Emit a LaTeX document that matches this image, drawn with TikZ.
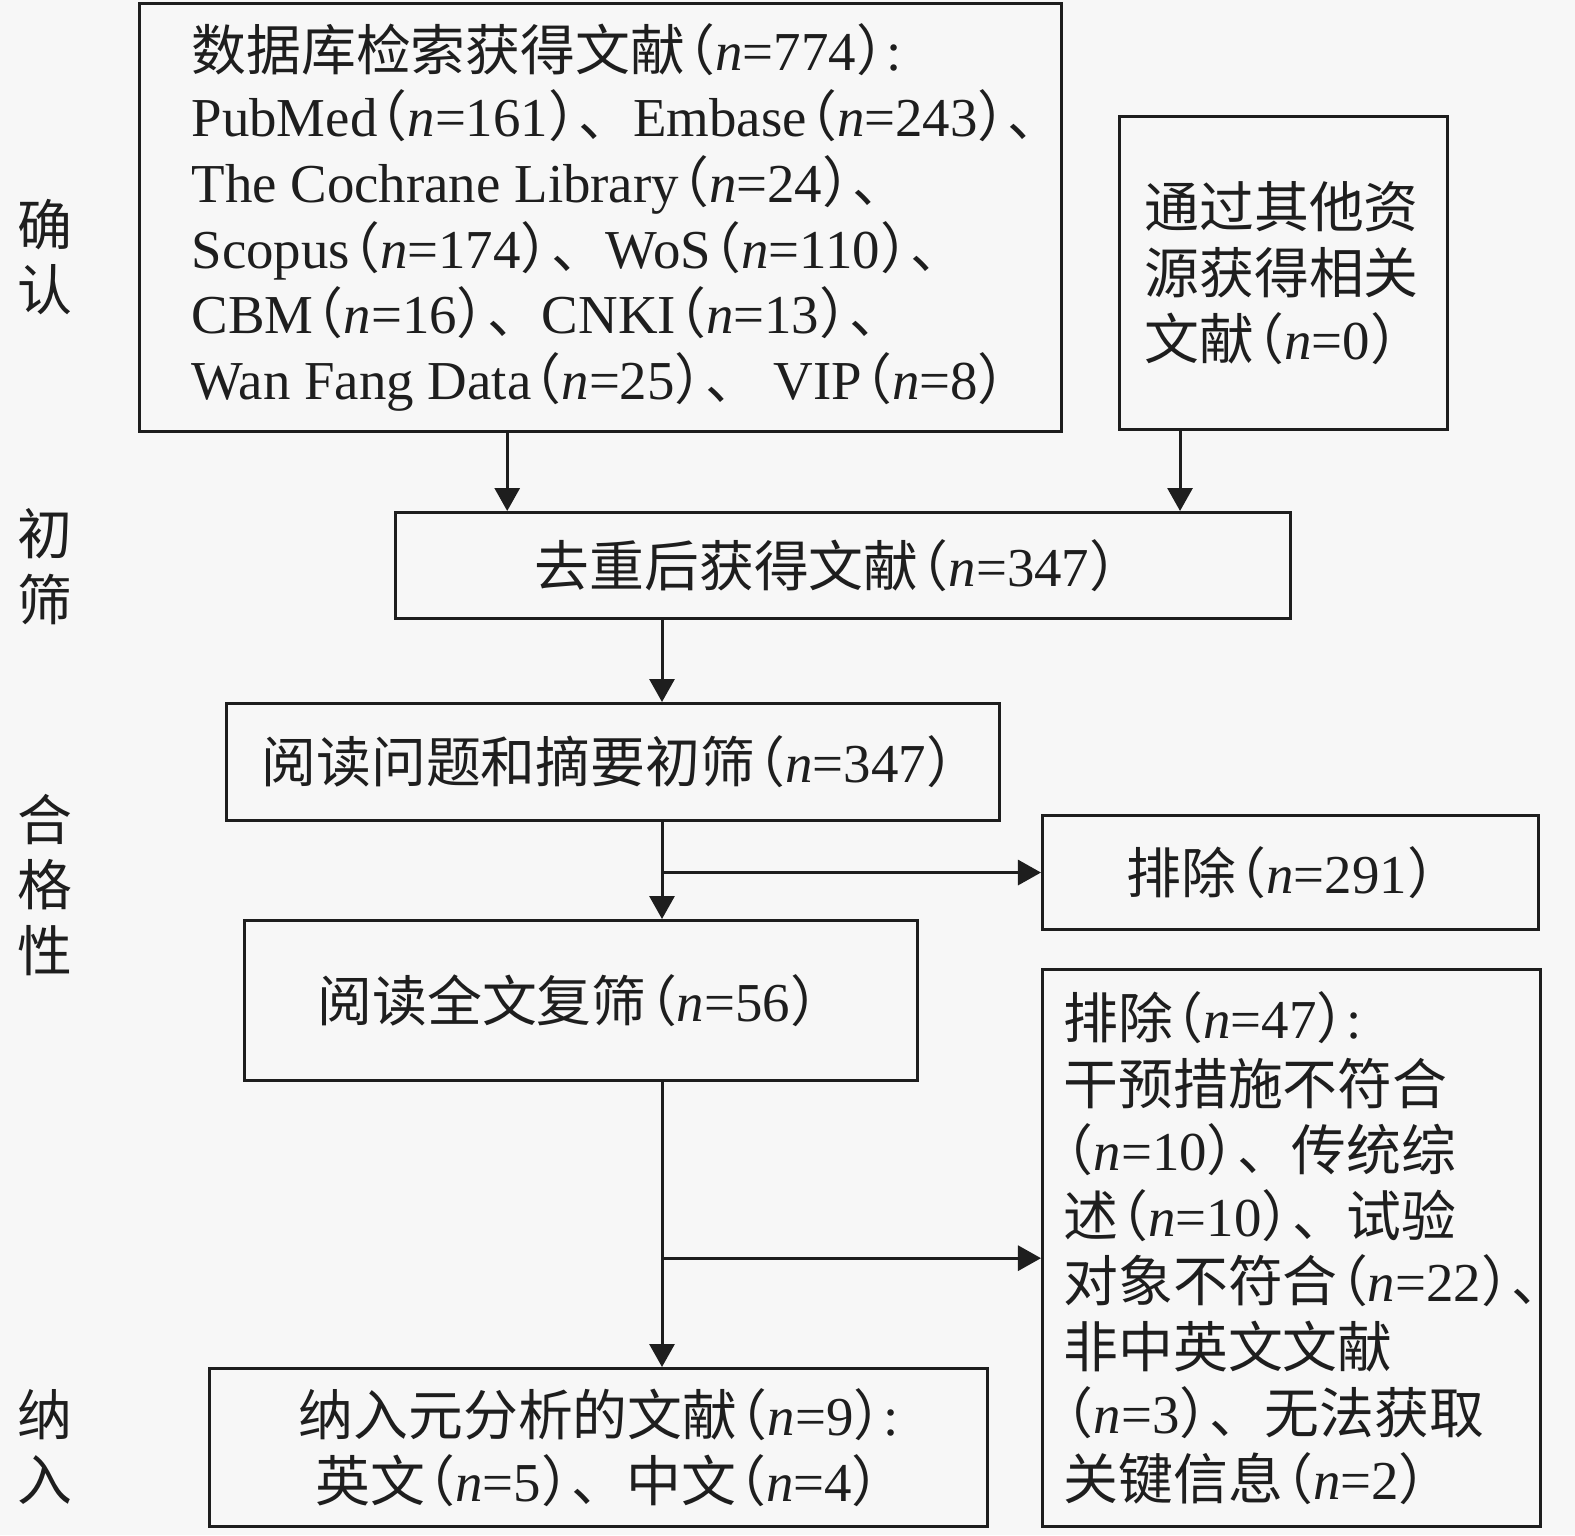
\documentclass[tikz,border=0pt]{standalone}
\usepackage{fontspec}
\setmainfont{Liberation Serif}
\newfontfamily\zhfont{Noto Sans CJK SC}
\usetikzlibrary{arrows.meta, positioning, calc}

\definecolor{bgcol}{HTML}{F7F7F7}
\definecolor{ink}{HTML}{1E1E1E}

% count in half-width parentheses, latin part in Times-like serif
\newcommand\nn[1]{\mbox{}\kern-0.45em（{\rmfamily\textit{n}=#1}）\kern-0.45em\mbox{}}
\newcommand\en[1]{{\rmfamily\spaceskip=0pt\xspaceskip=0pt\relax #1}}

\tikzset{
  box/.style   = {draw=ink, rectangle, line width=0.85pt, anchor=north west,
                  text=ink, inner ysep=0pt,
                  font=\zhfont\fontsize{15.6}{18.7}\selectfont},
  stage/.style = {align=center, text=ink, inner sep=0pt,
                  font=\zhfont\fontsize{15.6}{18.7}\selectfont},
  arr/.style   = {-{Triangle[length=2.3mm, width=2.5mm]}, line width=0.85pt, draw=ink}
}

\begin{document}
\begin{tikzpicture}[x=0.01cm, y=-0.01cm]

  \fill[bgcol] (0,0) rectangle (1575,1535);

  % ── Identification ────────────────────────────────────────────────────────
  \node[box, minimum width=9.21cm, minimum height=4.28cm,
        text width=8.17cm, inner xsep=0.52cm, align=left] (DbSearch) at (138,2)
    {数据库检索获得文献\nn{774}\en{:}\\
     \en{PubMed}\nn{161}、\en{Embase}\nn{243}、\\
     \en{The~Cochrane~Library}\nn{24}、\\
     \en{Scopus}\nn{174}、\en{WoS}\nn{110}、\\
     \en{CBM}\nn{16}、\en{CNKI}\nn{13}、\\
     \en{Wan~Fang~Data}\nn{25}、\en{~}\en{VIP}\nn{8}};

  \node[box, minimum width=3.28cm, minimum height=3.13cm,
        text width=2.78cm, inner xsep=0.25cm, align=left] (OtherSrc) at (1118,115)
    {通过其他资\\源获得相关\\文献\nn{0}};

  % ── Screening ─────────────────────────────────────────────────────────────
  \node[box, minimum width=8.94cm, minimum height=1.06cm,
        text width=6.16cm, inner xsep=1.39cm, align=left] (Dedup) at (394,511)
    {去重后获得文献\nn{347}};

  \node[box, minimum width=7.73cm, minimum height=1.17cm,
        text width=7.03cm, inner xsep=0.35cm, align=left] (TitleScr) at (225,702)
    {阅读问题和摘要初筛\nn{347}};

  % ── Eligibility ───────────────────────────────────────────────────────────
  \node[box, minimum width=4.96cm, minimum height=1.14cm,
        text width=3.28cm, inner xsep=0.84cm, align=left] (ExclA) at (1041,814)
    {排除\nn{291}};

  \node[box, minimum width=6.73cm, minimum height=1.60cm,
        text width=5.27cm, inner xsep=0.73cm, align=left] (FullScr) at (243,919)
    {阅读全文复筛\nn{56}};

  \node[box, minimum width=4.98cm, minimum height=5.57cm,
        text width=4.56cm, inner xsep=0.21cm, align=left] (ExclB) at (1041,968)
    {排除\nn{47}\en{:}\\
     干预措施不符合\\
     \nn{10}、传统综\\
     述\nn{10}、试验\\
     对象不符合\nn{22}、\\
     非中英文文献\\
     \nn{3}、无法获取\\
     关键信息\nn{2}};

  % ── Included ──────────────────────────────────────────────────────────────
  \node[box, minimum width=7.78cm, minimum height=1.58cm, align=center] (Included) at (208,1367)
    {纳入元分析的文献\nn{9}\en{:}\\
     英文\nn{5}、中文\nn{4}};

  % ── Stage labels (left margin) ────────────────────────────────────────────
  \node[stage] (StIdent)  at (45,257)  {确\\认};
  \node[stage] (StScreen) at (45,567)  {初\\筛};
  \node[stage] (StElig)   at (45,885)  {合\\格\\性};
  \node[stage] (StIncl)   at (45,1447) {纳\\入};

  % ── Flow connections ──────────────────────────────────────────────────────
  \coordinate (Spine)    at (662,0);
  \coordinate (DbOut)    at ([xshift=3.69cm]DbSearch.south west);
  \coordinate (OtherOut) at ([xshift=0.62cm]OtherSrc.south west);
  \coordinate (ExclBIn)  at ([yshift=-0.1cm]ExclB.west);

  \draw[arr] (DbOut)    -- (DbOut |- Dedup.north);
  \draw[arr] (OtherOut) -- (OtherOut |- Dedup.north);
  \draw[arr] (Spine |- Dedup.south)    -- (Spine |- TitleScr.north);
  \draw[arr] (Spine |- TitleScr.south) -- (Spine |- FullScr.north);
  \draw[arr] (Spine |- FullScr.south)  -- (Spine |- Included.north);

  % exclusions branch off the spine
  \draw[arr] (Spine |- ExclA.west) -- (ExclA.west);
  \draw[arr] (Spine |- ExclBIn)    -- (ExclBIn);

\end{tikzpicture}
\end{document}
